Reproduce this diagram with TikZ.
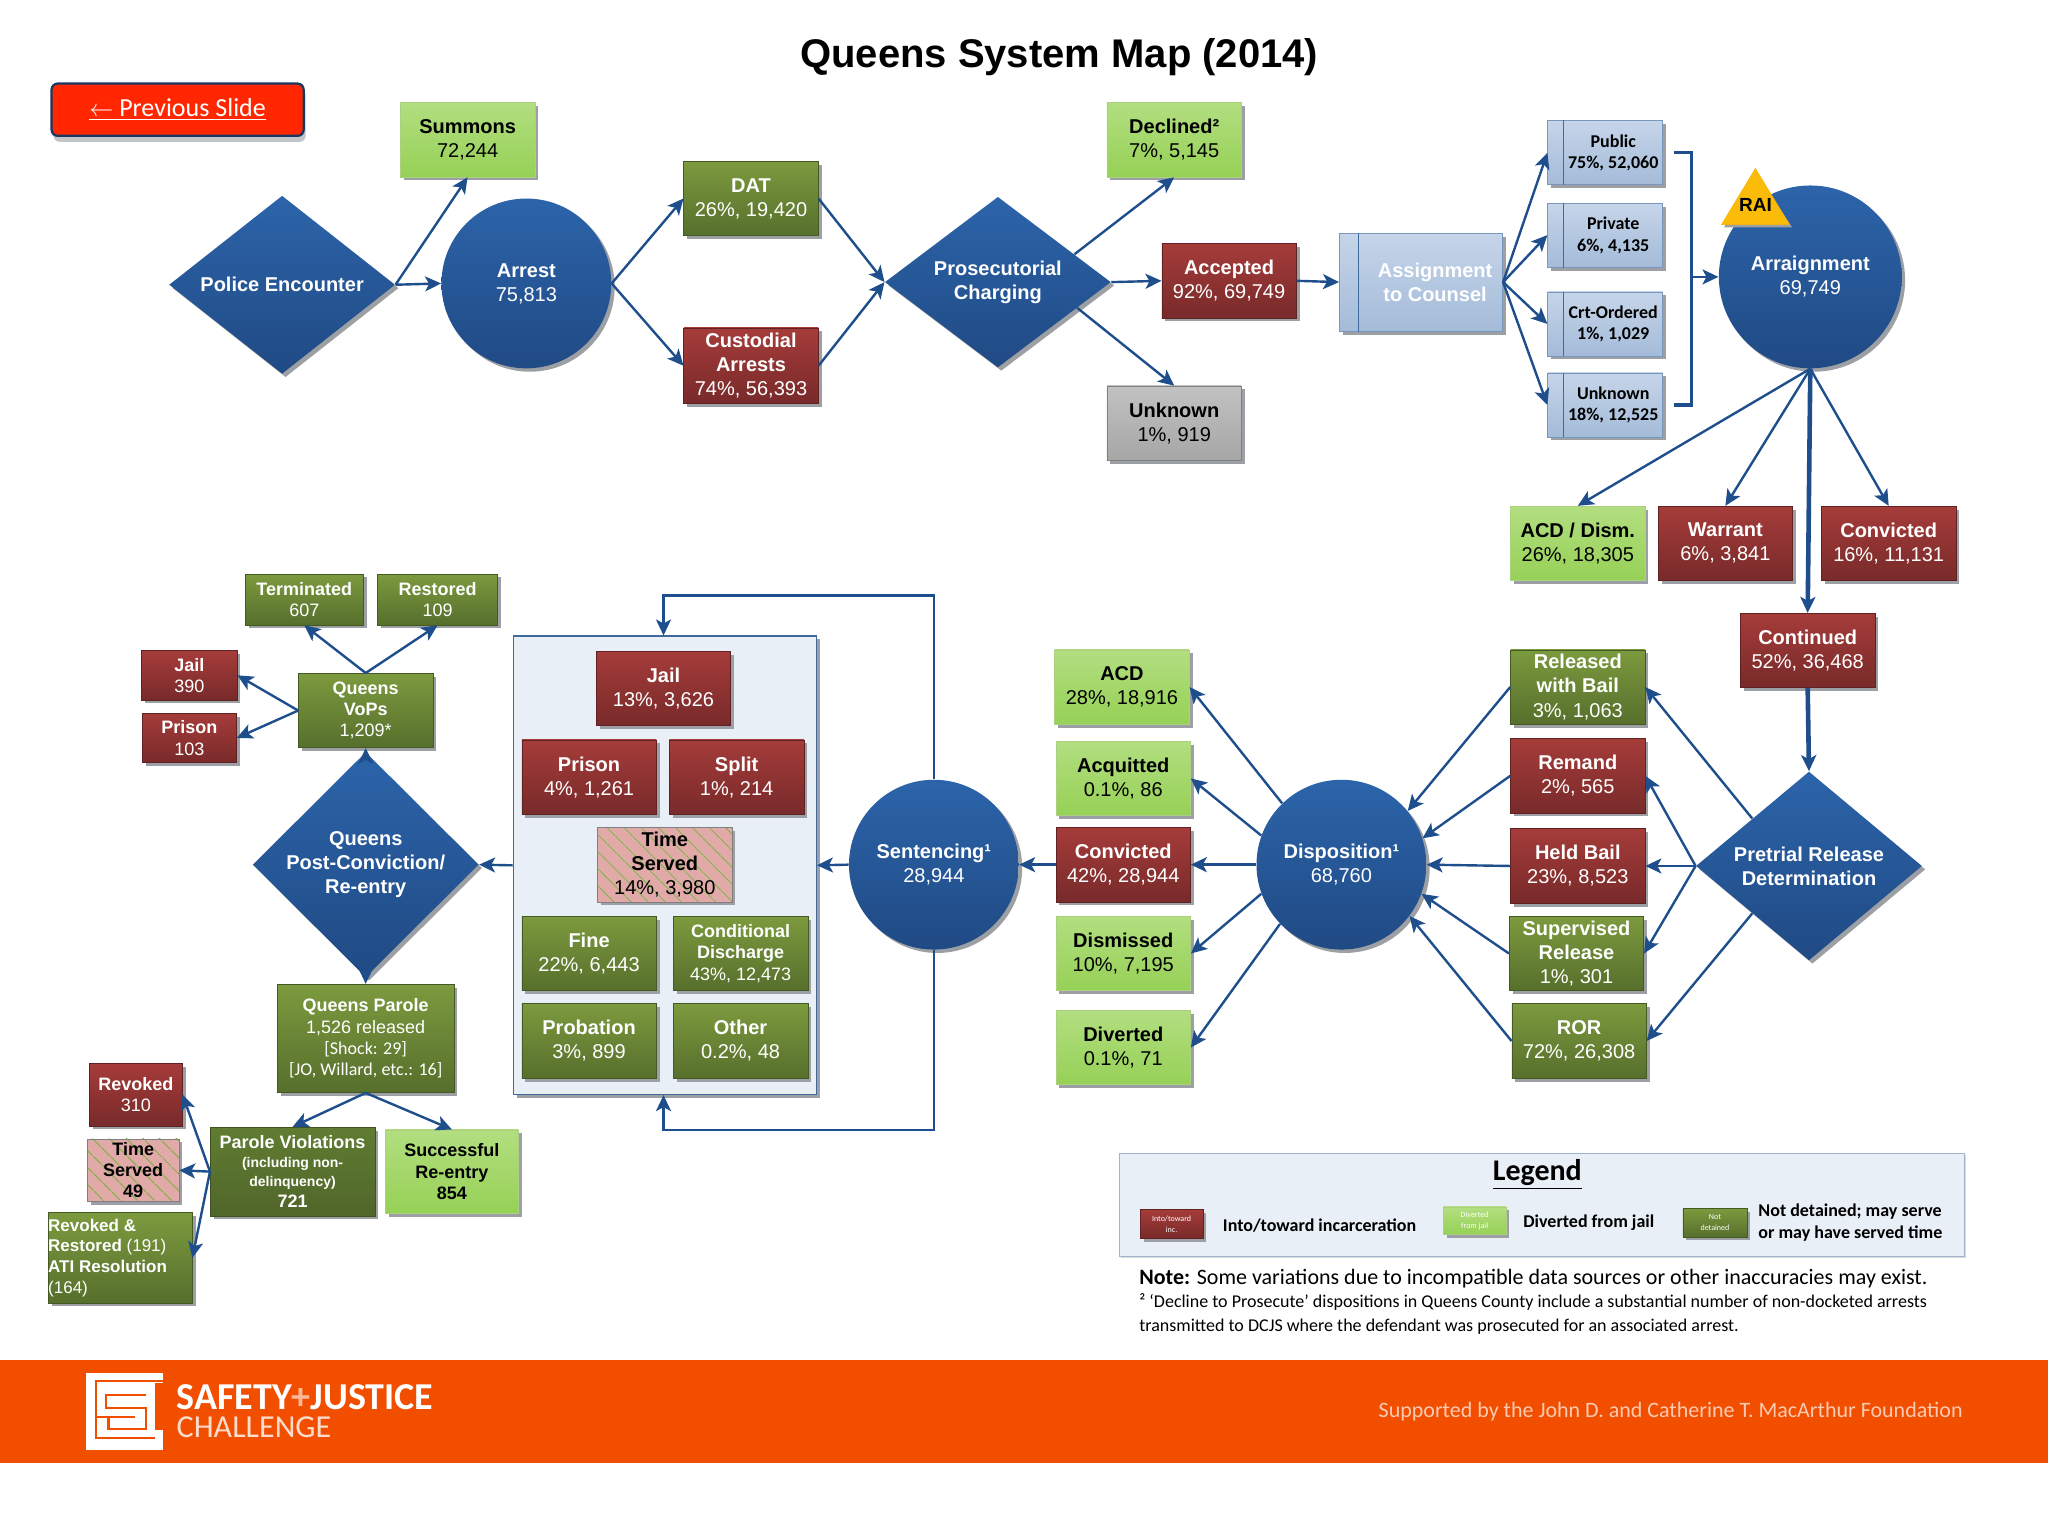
\documentclass[tikz,border=0pt]{standalone}
\usepackage{fontspec}
\setmainfont{Liberation Sans}
\newfontfamily\calfont{Carlito}
\usetikzlibrary{arrows.meta,shapes.geometric,shadows,patterns.meta,calc}

\definecolor{flowblue}{HTML}{1F4E8C}
\definecolor{edgeblue}{HTML}{3F6A9C}
\definecolor{redtop}{HTML}{A53C3A}
\definecolor{redbot}{HTML}{782A2A}
\definecolor{greentop}{HTML}{7C9A3E}
\definecolor{greenbot}{HTML}{566F2C}
\definecolor{darktop}{HTML}{607C32}
\definecolor{darkbot}{HTML}{50662A}
\definecolor{limetop}{HTML}{B2DE80}
\definecolor{limebot}{HTML}{96D156}
\definecolor{bluetop}{HTML}{2C64AA}
\definecolor{bluebot}{HTML}{204A84}
\definecolor{steeltop}{HTML}{C6D5E9}
\definecolor{steelbot}{HTML}{A4BBD9}
\definecolor{panel}{HTML}{E9EFF7}
\definecolor{banner}{HTML}{F24E00}
\definecolor{shade}{HTML}{9C9FA3}

\newcommand{\fsmain}{\fontsize{10}{12}\selectfont}
\newcommand{\fssmall}{\fontsize{9}{10.6}\selectfont}

\tikzset{
  sz/.style 2 args={minimum width=#1*0.653pt,minimum height=#2*0.653pt},
  boxed/.style={rectangle,inner sep=0pt,align=center,font=\fsmain,sz={103}{57},
    drop shadow={shadow xshift=1.7pt,shadow yshift=-1.7pt,fill=shade,opacity=1}},
  redbox/.style={boxed,draw=redbot!80!black,line width=.3pt,top color=redtop,bottom color=redbot,text=white},
  greenbox/.style={boxed,draw=greenbot!80!black,line width=.3pt,top color=greentop,bottom color=greenbot,text=white},
  darkbox/.style={boxed,draw=darkbot!80!black,line width=.3pt,top color=darktop,bottom color=darkbot,text=white},
  limebox/.style={boxed,draw=limetop!85!gray,line width=.3pt,top color=limetop,bottom color=limebot,text=black},
  greybox/.style={boxed,draw=gray,line width=.3pt,top color=gray!48,bottom color=gray!70,text=black},
  steelbox/.style={boxed,draw=edgeblue!70,line width=.4pt,top color=steeltop,bottom color=steelbot,text=black},
  hatchbox/.style={boxed,draw=gray,line width=.3pt,text=black,
    preaction={fill=red!50!gray!45!white},
    pattern={Lines[angle=-45,distance=6.5pt,line width=.7pt]},pattern color=limebot!85!black},
  stage/.style={diamond,inner sep=0pt,align=center,text=white,font=\fsmain,sz={173}{104},
    top color=bluetop,bottom color=bluebot,
    drop shadow={shadow xshift=1.7pt,shadow yshift=-1.7pt,fill=shade,opacity=1}},
  hub/.style={circle,inner sep=0pt,align=center,text=white,font=\fsmain,minimum size=130*0.653pt,
    top color=bluetop,bottom color=bluebot,
    drop shadow={shadow xshift=1.7pt,shadow yshift=-1.7pt,fill=shade,opacity=1}},
  flow/.style={draw=flowblue,line width=1.2pt,-{Stealth[length=8pt,width=7.5pt,inset=2pt]}},
  bigflow/.style={flow,line width=2.3pt},
  bar/.style={draw=flowblue,line width=1.6pt},
  divider/.style={draw=edgeblue,line width=.5pt},
  note/.style={inner sep=0pt,anchor=west,font=\calfont},
}

\begin{document}
\begin{tikzpicture}[x=0.653pt,y=-0.653pt]
  \useasboundingbox (0,0) rectangle (1568,1176);

  \node[font=\fontsize{20}{24}\selectfont\bfseries,inner sep=0pt] (title) at (811,44) {Queens System Map (2014)};
  \node[rectangle,rounded corners=3pt,draw=flowblue!70!black,line width=1.1pt,fill=orange!30!red,
    minimum width=193*0.653pt,minimum height=40*0.653pt,text=white,font=\calfont\fontsize{13}{15}\selectfont,
    drop shadow={shadow xshift=1pt,shadow yshift=-3pt,fill=shade!60,opacity=1}] (prev) at (136,84)
    {\underline{$\leftarrow$ Previous Slide}};

  % top row
  \node[stage] (police) at (216,218) {\textbf{Police Encounter}};
  \node[limebox] (summons) at (358,107) {\textbf{Summons}\\72,244};
  \node[hub] (arrest) at (403,217) {\textbf{Arrest}\\75,813};
  \node[greenbox] (dat) at (575,152) {\textbf{DAT}\\26\%, 19,420};
  \node[redbox,sz={103}{58}] (custody) at (575,280) {\textbf{Custodial}\\\textbf{Arrests}\\74\%, 56,393};
  \node[stage] (charging) at (764,216) {\textbf{Prosecutorial}\\\textbf{Charging}};
  \node[limebox] (declined) at (899,107) {\textbf{Declined²}\\7\%, 5,145};
  \node[redbox] (accepted) at (941,215) {\textbf{Accepted}\\92\%, 69,749};
  \node[greybox] (unknown) at (899,324) {\textbf{Unknown}\\1\%, 919};
  \node[steelbox,sz={125}{75},text=white] (counsel) at (1088,216) {\hspace*{14pt}\textbf{Assignment}\\\hspace*{14pt}\textbf{to Counsel}};
  \node[steelbox,sz={88}{49},font=\calfont\fontsize{9}{10.8}\selectfont\bfseries] (public) at (1229,117) {\hspace*{8pt}Public\\\hspace*{8pt}75\%, 52,060};
  \node[steelbox,sz={88}{49},font=\calfont\fontsize{9}{10.8}\selectfont\bfseries] (private) at (1229,180) {\hspace*{8pt}Private\\\hspace*{8pt}6\%, 4,135};
  \node[steelbox,sz={88}{49},font=\calfont\fontsize{9}{10.8}\selectfont\bfseries] (ordered) at (1229,248) {\hspace*{8pt}Crt-Ordered\\\hspace*{8pt}1\%, 1,029};
  \node[steelbox,sz={88}{49},font=\calfont\fontsize{9}{10.8}\selectfont\bfseries] (unkcounsel) at (1229,310) {\hspace*{8pt}Unknown\\\hspace*{8pt}18\%, 12,525};
  \draw[divider] ($(counsel.north west)+(15,0)$) -- ($(counsel.south west)+(15,0)$);
  \draw[divider] ($(public.north west)+(12,0)$) -- ($(public.south west)+(12,0)$);
  \draw[divider] ($(private.north west)+(12,0)$) -- ($(private.south west)+(12,0)$);
  \draw[divider] ($(ordered.north west)+(12,0)$) -- ($(ordered.south west)+(12,0)$);
  \draw[divider] ($(unkcounsel.north west)+(12,0)$) -- ($(unkcounsel.south west)+(12,0)$);

  \node[hub,minimum size=140*0.653pt] (arraign) at (1386,212) {\textbf{Arraignment}\\69,749};
  \fill[fill=shade] (1344,131) -- (1372,174) -- (1320,174) -- cycle;
  \draw[draw=orange!60!yellow,fill=yellow!50!orange,line width=.3pt] (1344,129) -- (1370,172) -- (1318,172) -- cycle;
  \node[inner sep=0pt,font=\fontsize{9.5}{11}\selectfont\bfseries] (rai) at (1344,157) {RAI};

  \node[limebox] (acddism) at (1208,416) {\textbf{ACD / Dism.}\\26\%, 18,305};
  \node[redbox] (warrant) at (1321,416) {\textbf{Warrant}\\6\%, 3,841};
  \node[redbox] (arrconv) at (1446,416) {\textbf{Convicted}\\16\%, 11,131};
  \node[redbox] (continued) at (1384,498) {\textbf{Continued}\\52\%, 36,468};
  \node[stage] (pretrial) at (1385,663) {\textbf{Pretrial Release}\\\textbf{Determination}};

  % release column
  \node[greenbox] (bail) at (1208,526) {\textbf{Released}\\\textbf{with Bail}\\3\%, 1,063};
  \node[redbox] (remand) at (1208,594) {\textbf{Remand}\\2\%, 565};
  \node[redbox] (heldbail) at (1208,663) {\textbf{Held Bail}\\23\%, 8,523};
  \node[greenbox] (supervised) at (1207,730) {\textbf{Supervised}\\\textbf{Release}\\1\%, 301};
  \node[greenbox] (ror) at (1209,797) {\textbf{ROR}\\72\%, 26,308};
  \node[hub] (dispo) at (1027,662) {\textbf{Disposition¹}\\68,760};

  % disposition column
  \node[limebox] (acd) at (859,526) {\textbf{ACD}\\28\%, 18,916};
  \node[limebox] (acquit) at (860,596) {\textbf{Acquitted}\\0.1\%, 86};
  \node[redbox] (conv) at (860,662) {\textbf{Convicted}\\42\%, 28,944};
  \node[limebox] (dismiss) at (860,730) {\textbf{Dismissed}\\10\%, 7,195};
  \node[limebox] (divert) at (860,802) {\textbf{Diverted}\\0.1\%, 71};
  \node[hub] (sentence) at (715,662) {\textbf{Sentencing¹}\\28,944};

  % sentence panel
  \node[rectangle,draw=edgeblue,fill=panel,line width=.6pt,inner sep=0pt,sz={232}{351},
    drop shadow={shadow xshift=1.7pt,shadow yshift=-1.7pt,fill=shade,opacity=1}] (panel) at (509,662.5) {};
  \node[redbox] (sjail) at (508,527) {\textbf{Jail}\\13\%, 3,626};
  \node[redbox] (sprison) at (451,595) {\textbf{Prison}\\4\%, 1,261};
  \node[redbox] (split) at (564,595) {\textbf{Split}\\1\%, 214};
  \node[hatchbox] (served) at (509,662) {\textbf{Time}\\\textbf{Served}\\14\%, 3,980};
  \node[greenbox] (fine) at (451,730) {\textbf{Fine}\\22\%, 6,443};
  \node[greenbox,font=\fssmall] (discharge) at (567,730) {\textbf{Conditional}\\\textbf{Discharge}\\43\%, 12,473};
  \node[greenbox] (probation) at (451,797) {\textbf{Probation}\\3\%, 899};
  \node[greenbox] (other) at (567,797) {\textbf{Other}\\0.2\%, 48};

  % post conviction side
  \node[stage] (post) at (280,662) {\textbf{Queens}\\\textbf{Post-Conviction/}\\\textbf{Re-entry}};
  \node[greenbox,font=\fssmall] (vops) at (280,544) {\textbf{Queens}\\\textbf{VoPs}\\1,209*};
  \node[greenbox,sz={90}{39},font=\fssmall] (terminated) at (233,459) {\textbf{Terminated}\\607};
  \node[greenbox,sz={92}{39},font=\fssmall] (restored) at (335,459) {\textbf{Restored}\\109};
  \node[redbox,sz={73}{38},font=\fssmall] (vjail) at (145,517) {\textbf{Jail}\\390};
  \node[redbox,sz={72}{38},font=\fssmall] (vprison) at (145,565) {\textbf{Prison}\\103};
  \node[greenbox,sz={135}{83},font=\fssmall] (parole) at (280,795) {\textbf{Queens Parole}\\1,526 released\\{\calfont [Shock: 29]}\\{\calfont [JO, Willard, etc.: 16]}};
  \node[darkbox,sz={126}{68},font=\fssmall] (violate) at (224,897) {\textbf{Parole Violations}\\[-1pt]{\fontsize{7}{8.2}\selectfont\textbf{(including non-}}\\[-1pt]{\fontsize{7}{8.2}\selectfont\textbf{delinquency)}}\\\textbf{721}};
  \node[limebox,sz={102}{64},font=\fssmall\bfseries] (success) at (346,897) {Successful\\Re-entry\\854};
  \node[redbox,sz={71}{48},font=\fssmall] (revoked) at (104,838) {\textbf{Revoked}\\310};
  \node[hatchbox,sz={70}{48},font=\fssmall\bfseries] (served2) at (102,896) {Time\\Served\\49};
  \node[greenbox,sz={101}{69},font=\fontsize{8.5}{10.4}\selectfont,align=left] (restore2) at (92,963) {\textbf{Revoked \&}\hspace*{28pt}\\\textbf{Restored} (191)\\\textbf{ATI Resolution}\\(164)};

  % arrows, top half
  \draw[flow] (police.east) -- (summons.south);
  \draw[flow] (police.east) -- (arrest.west);
  \draw[flow] (arrest.east) -- (dat.west);
  \draw[flow] (arrest.east) -- (custody.west);
  \draw[flow] (dat.east) -- (charging.west);
  \draw[flow] (custody.east) -- (charging.west);
  \draw[flow] (charging.20) -- (declined.south);
  \draw[flow] (charging.east) -- (accepted.west);
  \draw[flow] (charging.-18) -- (unknown.north);
  \draw[flow] (accepted.east) -- (counsel.west);
  \draw[flow] (counsel.east) -- (public.west);
  \draw[flow] (counsel.east) -- (private.west);
  \draw[flow] (counsel.east) -- (ordered.west);
  \draw[flow] (counsel.east) -- (unkcounsel.west);
  \coordinate (brtop) at (1282,117);
  \coordinate (brbot) at (1282,310);
  \coordinate (brmid) at (1295,212);
  \draw[bar] (brtop) -| (brmid) |- (brbot);
  \draw[flow] (brmid) -- (arraign.west);
  \draw[flow] (arraign.south) -- (acddism.north);
  \draw[flow] (arraign.south) -- (warrant.north);
  \draw[flow] (arraign.south) -- (arrconv.north);
  \draw[bigflow] (arraign.south) -- (continued.north);
  \draw[bigflow] (continued.south) -- (pretrial.north);

  % arrows, pretrial to disposition
  \draw[flow] (pretrial.north west) -- (bail.east);
  \draw[flow] (pretrial.west) -- (remand.east);
  \draw[flow] (pretrial.west) -- (heldbail.east);
  \draw[flow] (pretrial.west) -- (supervised.east);
  \draw[flow] (pretrial.south west) -- (ror.east);
  \draw[flow] (bail.west) -- (dispo.39);
  \draw[flow] (remand.west) -- (dispo.18);
  \draw[flow] (heldbail.west) -- (dispo.east);
  \draw[flow] (supervised.west) -- (dispo.-20);
  \draw[flow] (ror.west) -- (dispo.-37);
  \draw[flow] (dispo.134) -- (acd.east);
  \draw[flow] (dispo.160) -- (acquit.east);
  \draw[flow] (dispo.west) -- (conv.east);
  \draw[flow] (dispo.200) -- (dismiss.east);
  \draw[flow] (dispo.224) -- (divert.east);
  \draw[flow] (conv.west) -- (sentence.east);
  \draw[flow] (sentence.west) -- (panel.east);
  \coordinate (looptop) at (508,456);
  \coordinate (loopbot) at (508,865);
  \draw[flow] (sentence.north) |- (looptop) -- (panel.north -| looptop);
  \draw[flow] (sentence.south) |- (loopbot) -- (panel.south -| loopbot);

  % arrows, left side
  \draw[flow] (panel.west) -- (post.east);
  \draw[flow] (post.north) -- (vops.south);
  \draw[flow] (post.south) -- (parole.north);
  \draw[flow] (vops.north) -- (terminated.south);
  \draw[flow] (vops.north) -- (restored.south);
  \draw[flow] (vops.west) -- (vjail.east);
  \draw[flow] (vops.west) -- (vprison.east);
  \draw[flow] (parole.south) -- (violate.north);
  \draw[flow] (parole.south) -- (success.north);
  \draw[flow] (violate.west) -- (revoked.east);
  \draw[flow] (violate.west) -- (served2.east);
  \draw[flow] (violate.west) -- (restore2.east);

  % legend
  \node[rectangle,draw=edgeblue!50,fill=panel,line width=.5pt,inner sep=0pt,sz={647}{79},
    drop shadow={shadow xshift=.8pt,shadow yshift=-.8pt,fill=shade!40,opacity=1}] (legend) at (1180.5,922.5) {};
  \node[inner sep=0pt,font=\calfont\fontsize{15}{18}\selectfont\bfseries] (legendtitle) at (1177,899) {\underline{Legend}};
  \node[redbox,sz={48}{22},font=\calfont\fontsize{4}{5.5}\selectfont] (keyred) at (897,937) {Into/toward\\inc.};
  \node[limebox,sz={48}{21},text=white,font=\calfont\fontsize{4}{5.5}\selectfont] (keylime) at (1129,934.5) {Diverted\\from jail};
  \node[greenbox,sz={49}{22},font=\calfont\fontsize{4}{5.5}\selectfont] (keygreen) at (1313,936) {Not\\detained};
  \node[note,font=\calfont\fontsize{9}{11}\selectfont\bfseries] (keyredtxt) at (936,938) {Into/toward incarceration};
  \node[note,font=\calfont\fontsize{9}{11}\selectfont\bfseries] (keylimetxt) at (1166,936) {Diverted from jail};
  \node[note,font=\calfont\fontsize{9}{10.6}\selectfont\bfseries,align=left] (keygreentxt) at (1346,936) {Not detained; may serve\\or may have served time};

  \node[note,font=\calfont\fontsize{11}{13}\selectfont] (notetxt) at (872,979) {\textbf{Note:} Some variations due to incompatible data sources or other inaccuracies may exist.};
  \node[note,font=\calfont\fontsize{9}{11}\selectfont] (foot1) at (872,997) {² ‘Decline to Prosecute’ dispositions in Queens County include a substantial number of non-docketed arrests};
  \node[note,font=\calfont\fontsize{9}{11}\selectfont] (foot2) at (872,1016) {transmitted to DCJS where the defendant was prosecuted for an associated arrest.};

  % footer band
  \fill[banner] (0,1041) rectangle (1568,1120);
  \fill[white] (66,1051) rectangle (125,1110);
  \fill[banner] (119,1059) rectangle (126,1095);
  \draw[banner,line width=1.2pt] (125,1057.5) -| (73.5,1101) -- (119,1101);
  \draw[banner,line width=1.2pt] (112,1068) -| (81,1078) -| (112,1094) -| (83,1085);
  \draw[banner,line width=1.2pt] (73.5,1085) -- (103,1085);
  \node[note,text=white,font=\calfont\fontsize{19}{20}\selectfont\bfseries] (safety) at (135,1070) {SAFETY{\color{white!60!banner}+}JUSTICE};
  \node[note,text=white!80!banner,font=\calfont\fontsize{16}{18}\selectfont] (challenge) at (135,1093) {CHALLENGE};
  \node[inner sep=0pt,anchor=east,text=white!70!banner,font=\calfont\fontsize{11}{13}\selectfont] (support) at (1503,1081) {Supported by the John D. and Catherine T. MacArthur Foundation};
\end{tikzpicture}
\end{document}
